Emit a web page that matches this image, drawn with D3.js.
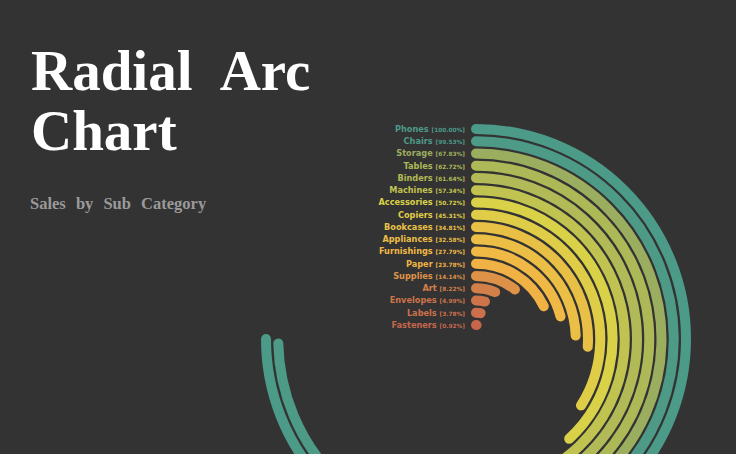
<!DOCTYPE html>
<html>
<head>
<meta charset="utf-8">
<script src="https://cdn.jsdelivr.net/npm/d3@7"></script>
<style>
  html, body { margin: 0; padding: 0; background: #333333; }
  svg { display: block; }
</style>
</head>
<body>
<svg id="chart"></svg>
<script>
// sales by sub category (sorted high to low)
const categories = ['Phones', 'Chairs', 'Storage', 'Tables', 'Binders', 'Machines', 'Accessories',
  'Copiers', 'Bookcases', 'Appliances', 'Furnishings', 'Paper', 'Supplies', 'Art',
  'Envelopes', 'Labels', 'Fasteners'];
const sales = [330007, 328449, 223844, 206966, 203413, 189239, 167380,
  149528, 114880, 107532, 91705, 78479, 46674, 27119, 16476, 12486, 3024];

const colorStops = [0, 0.25, 0.5, 0.68, 1];
const colorRange = ['#c4644c', '#f2b545', '#dcd247', '#9aad5e', '#4c9a88'];

const width = 736, height = 454;
const cx = 476, cy = 339;

const svg = d3.select('#chart')
    .attr('width', width)
    .attr('height', height);

svg.append('rect')
    .attr('width', width)
    .attr('height', height)
    .attr('fill', '#333333');

// title
const title = svg.append('text')
    .attr('x', 31)
    .attr('y', 90)
    .attr('fill', '#ffffff')
    .style('font-family', '"Liberation Serif", "Times New Roman", serif')
    .style('font-weight', 'bold')
    .style('font-size', '57px')
    .style('word-spacing', '16px');
title.append('tspan').attr('x', 31).text('Radial Arc');
title.append('tspan').attr('x', 31).attr('dy', 60).text('Chart');

svg.append('text')
    .attr('x', 30)
    .attr('y', 209)
    .attr('fill', '#9a9a9a')
    .style('font-family', '"Liberation Serif", "Times New Roman", serif')
    .style('font-weight', 'bold')
    .style('font-size', '16.5px')
    .style('word-spacing', '6px')
    .text('Sales by Sub Category');

const maxSales = d3.max(sales);
const data = categories.map((c, i) => ({ name: c, value: sales[i], pct: sales[i] / maxSales }));

let rScale = d3.scalePoint()
    .domain(categories)
    .range([210, 14]);

let aScale = d3.scaleLinear()
    .domain([0, maxSales])
    .range([0, Math.PI * 1.5]);

let color = d3.scaleLinear()
    .domain(colorStops)
    .range(colorRange)
    .interpolate(d3.interpolateRgb);

const g = svg.append('g');

g.selectAll('path')
    .data(data)
    .enter()
    .append('path')
      .attr('d', d => {
        const p = d3.path();
        const a0 = -Math.PI / 2;
        const r = rScale(d.name);
        p.moveTo(cx, cy - r);
        p.arc(cx, cy, r, a0, a0 + Math.max(aScale(d.value), 0.0001));
        return p.toString();
      })
      .attr('fill', 'none')
      .attr('stroke', d => color(d.pct))
      .attr('stroke-width', 10)
      .attr('stroke-linecap', 'round');

const labels = g.selectAll('text.label')
    .data(data)
    .enter()
    .append('text')
      .attr('class', 'label')
      .attr('x', 465)
      .attr('y', d => cy - rScale(d.name))
      .attr('dy', '0.35em')
      .attr('text-anchor', 'end')
      .attr('fill', d => color(d.pct))
      .style('font-family', '"DejaVu Sans", sans-serif')
      .style('font-weight', 'bold')
      .style('font-size', '8.2px');

labels.append('tspan')
    .text(d => d.name + ' ');

labels.append('tspan')
    .style('font-size', '5.8px')
    .text(d => '[' + (d.pct * 100).toFixed(2) + '%]');
</script>
</body>
</html>
